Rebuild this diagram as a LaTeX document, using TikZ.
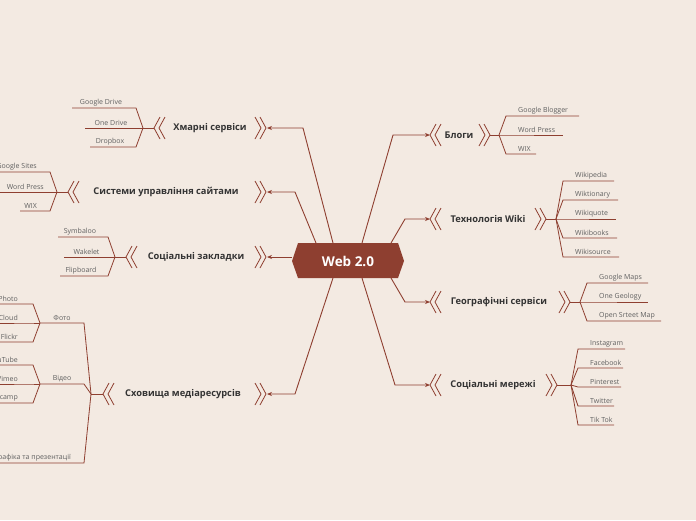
\documentclass[tikz,border=0pt]{standalone}
\usepackage{fontspec}
\setmainfont{Open Sans}
\usetikzlibrary{arrows.meta}
\definecolor{bg}{HTML}{F3EAE2}
\definecolor{ln}{HTML}{8E3F30}
\definecolor{tx}{HTML}{333333}
\definecolor{ct}{HTML}{606060}
\newcommand\chevL[2]{\draw[ln,line width=0.8pt] (#1+6,#2-11)--(#1,#2)--(#1+6,#2+11) (#1+11,#2-11)--(#1+5,#2)--(#1+11,#2+11);}
\newcommand\chevR[2]{\draw[ln,line width=0.8pt] (#1,#2-11)--(#1+6,#2)--(#1,#2+11) (#1+5,#2-11)--(#1+11,#2)--(#1+5,#2+11);}
\begin{document}
\begin{tikzpicture}[x=1pt,y=-1pt,
  topic/.style={font=\bfseries\fontsize{9.3}{10}\selectfont,text=tx,inner sep=0},
  ch/.style={font=\fontsize{7}{8}\selectfont,text=ct,inner sep=2pt},
  br/.style={ln,line width=0.9pt},
  sub/.style={ln,line width=0.8pt},
  arr/.style={ln,line width=0.9pt,-{Stealth[length=5pt,width=4pt]}}]
\fill[bg] (0,0) rectangle (696,520);
\useasboundingbox (0,0) rectangle (696,520);
% center
\fill[ln] (298,243)--(398,243)--(404,261)--(398,278)--(298,278)--(292,261)--cycle;
\node[text=white,font=\bfseries\fontsize{13.5}{14}\selectfont] (web) at (348,261) {Web 2.0};
% left topics
\node[topic] (t1) at (210,128) {Хмарні сервіси};
\node[topic] (t2) at (166,192) {Системи управління сайтами};
\node[topic] (t3) at (196,257) {Соціальні закладки};
\node[topic] (t4) at (183,394) {Сховища медіаресурсів};
\foreach \y/\l in {128/154,192/68,257/126,394/103}{\chevR{255}{\y}\chevL{\l}{\y}}
\coordinate (a1) at (267,128); \coordinate (a2) at (267,192); \coordinate (a3) at (267,257); \coordinate (a4) at (267,394);
\draw[arr] (333,243)--(303,128)--(a1);
\draw[arr] (316,243)--(295,192)--(a2);
\draw[arr] (292,257)--(a3);
\draw[arr] (333,278)--(295,394)--(a4);
% right topics
\node[topic] (r1) at (459,135) {Блоги};
\node[topic] (r2) at (488,219) {Технологія Wiki};
\node[topic] (r3) at (499,302) {Географічні сервіси};
\node[topic] (r4) at (493,385) {Соціальні мережі};
\foreach \y/\r in {135/479,219/535,302/559,385/546}{\chevL{430}{\y}\chevR{\r}{\y}}
\coordinate (b1) at (430,135); \coordinate (b2) at (430,219); \coordinate (b3) at (430,302); \coordinate (b4) at (430,385);
\draw[arr] (362,243)--(393,135)--(b1);
\draw[arr] (391,243)--(405,219)--(b2);
\draw[arr] (391,278)--(405,302)--(b3);
\draw[arr] (362,278)--(395,385)--(b4);
% left children
\draw[br] (154,128)--(143,128);
\foreach \y/\s/\e/\t in {108/72/136/Google Drive,128/85/143/One Drive,147/90/136/Dropbox}{
  \draw[sub] (143,128)--(\e,\y)--(\s,\y);
  \node[ch,anchor=south] at ({(\s+\e)/2-3},\y) {\t};}
\draw[br] (68,192)--(57,192);
\foreach \y/\s/\e/\t in {172/-10/50/Google Sites,192/-10/57/Word Press,211/20/50/WIX}{
  \draw[sub] (57,192)--(\e,\y)--(\s,\y);
  \node[ch,anchor=south east] at (\e-11,\y) {\t};}
\draw[br] (126,257)--(115,257);
\foreach \y/\s/\e/\t in {237/58/108/Symbaloo,257/64/115/Wakelet,276/60/108/Flipboard}{
  \draw[sub] (115,257)--(\e,\y)--(\s,\y);
  \node[ch,anchor=south] at ({(\s+\e)/2-3},\y) {\t};}
\draw[br] (103,394)--(91,394);
\draw[sub] (91,394)--(84,323)--(40,323);
\draw[sub] (91,394)--(84,384)--(40,384);
\draw[sub] (91,394)--(84,463)--(-5,463);
\node[ch,anchor=south] at (62,323) {Фото};
\node[ch,anchor=south] at (62,384) {Відео};
\node[ch,anchor=south east] at (73,463) {Графіка та презентації};
\draw[br] (40,323)--(34,323);
\foreach \y/\t in {304/Photo,323/Cloud,342/Flickr}{
  \draw[sub] (40,323)--(33,\y)--(-5,\y);
  \node[ch,anchor=south east] at (20,\y) {\t};}
\draw[br] (40,384)--(34,384);
\foreach \y/\t in {365/YouTube,384/Vimeo,403/Bandcamp}{
  \draw[sub] (40,384)--(33,\y)--(-5,\y);
  \node[ch,anchor=south east] at (20,\y) {\t};}
% right children
\foreach \j/\js/\st/\list in {
  135/490/506/{116/579/Google Blogger,135/563/Word Press,154/536/WIX},
  219/546/563/{181/614/Wikipedia,200/618/Wiktionary,219/616/Wikiquote,238/617/Wikibooks,257/619/Wikisource},
  302/570/587/{283/648/Google Maps,302/648/One Geology,321/661/Open Srteet Map},
  385/557/578/{349/625/Instagram,368/623/Facebook,387/621/Pinterest,406/614/Twitter,425/614/Tik Tok}}{
  \draw[br] (\js,\j)--(\st-7,\j);
  \foreach \y/\e/\t in \list {
    \draw[sub] (\st-7,\j)--(\st,\y)--(\e,\y);
    \node[ch,anchor=south west] at (\st+10,\y) {\t};}}
\end{tikzpicture}
\end{document}
